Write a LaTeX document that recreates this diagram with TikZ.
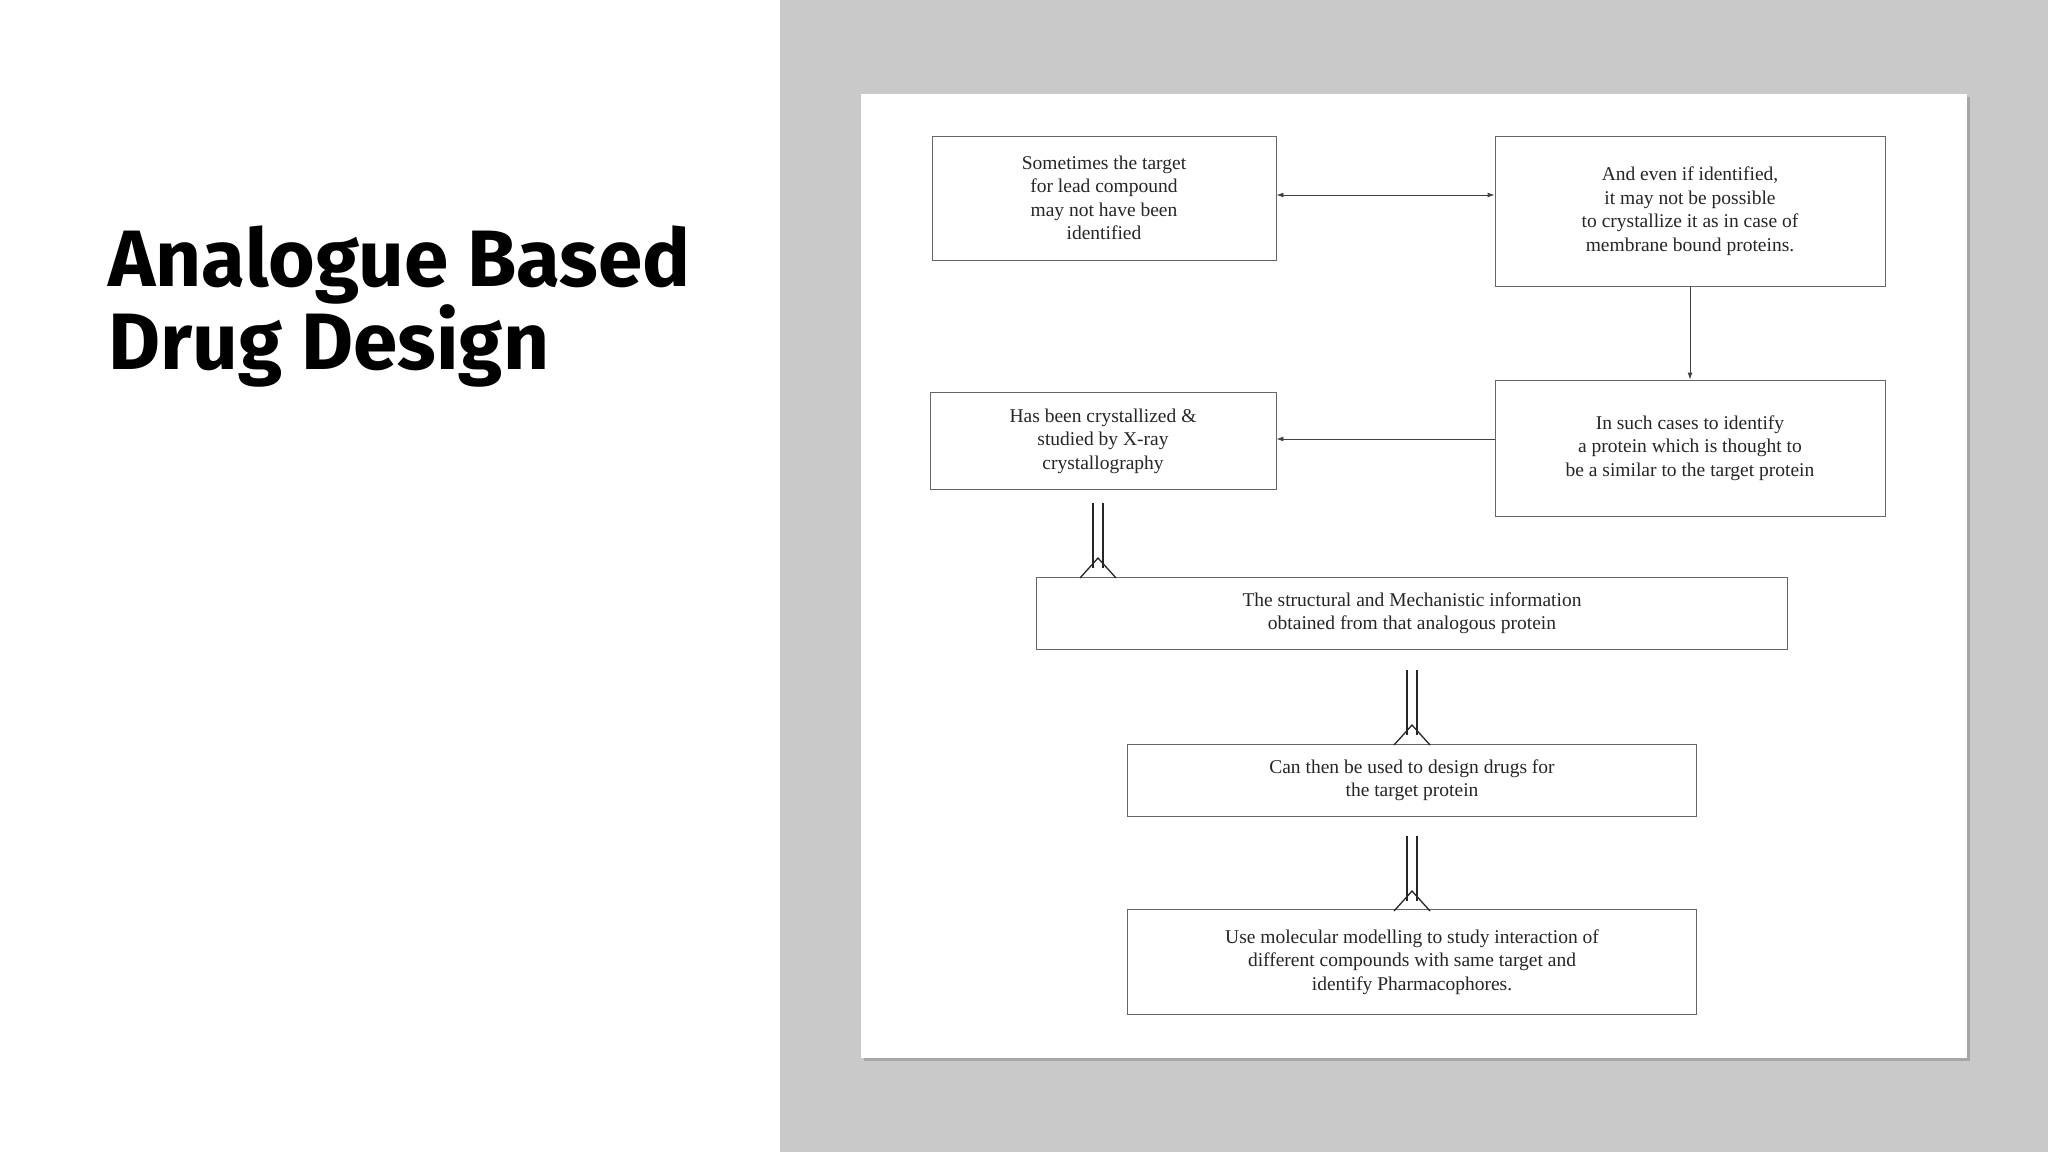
\documentclass[tikz,border=0pt]{standalone}
\usepackage{fontspec}
\setmainfont{Liberation Serif}
\newfontfamily\titlefont{Fira Sans}
\usetikzlibrary{arrows.meta}
\begin{document}
\begin{tikzpicture}[x=1pt,y=-1pt,
  bx/.style={draw=black!60,line width=0.9pt,fill=white,align=center,text=black!85,
    font=\fontsize{19.5}{23.5}\selectfont,inner sep=0pt},
  conn/.style={draw=black!75,line width=0.9pt,-{Latex[length=7pt,width=5pt]}},
  dbl/.style={draw=black!85,line width=1.3pt}]
\useasboundingbox (0,0) rectangle (2048,1152);
\fill[white] (0,0) rectangle (2048,1152);
\fill[black!21] (780,0) rectangle (2048,1152);
\fill[black!35] (864,97) rectangle (1970,1061);
\fill[white] (861,94) rectangle (1967,1058);
\node[font=\titlefont\bfseries\fontsize{80}{82}\selectfont,anchor=north west,align=left] (title) at (105,222) {Analogue Based\\Drug Design};
\node[bx,minimum width=344,minimum height=124] (b1) at (1104,198) {Sometimes the target\\for lead compound\\may not have been\\identified};
\node[bx,minimum width=390,minimum height=150] (b2) at (1690,211) {And even if identified,\\it may not be possible\\to crystallize it as in case of\\membrane bound proteins.};
\node[bx,minimum width=346,minimum height=97] (b3) at (1103,441) {Has been crystallized \&\\studied by X-ray\\crystallography};
\node[bx,minimum width=390,minimum height=136] (b4) at (1690,448) {In such cases to identify\\a protein which is thought to\\be a similar to the target protein};
\node[bx,minimum width=751,minimum height=72] (b5) at (1412,613) {The structural and Mechanistic information\\obtained from that analogous protein};
\node[bx,minimum width=569,minimum height=72] (b6) at (1412,780) {Can then be used to design drugs for\\the target protein};
\node[bx,minimum width=569,minimum height=105] (b7) at (1412,962) {Use molecular modelling to study interaction of\\different compounds with same target and\\identify Pharmacophores.};
\draw[conn,{Latex[length=7pt,width=5pt]}-{Latex[length=7pt,width=5pt]}] (b1.east |- 0,195) -- (b2.west |- 0,195);
\draw[conn] (b2.south) -- (b4.north);
\draw[conn] (b4.west |- 0,439) -- (b3.east |- 0,439);
\foreach \n/\x/\t/\b in {d1/1098/503/558, d2/1412/670/725, d3/1412/836/891}{
  \coordinate (\n t) at (\x,\t);
  \coordinate (\n b) at (\x,\b);
  \draw[dbl] ([xshift=-5pt]\n t) -- ([xshift=-5pt,yshift=-10pt]\n b);
  \draw[dbl] ([xshift=5pt]\n t) -- ([xshift=5pt,yshift=-10pt]\n b);
  \draw[dbl] ([xshift=-18pt,yshift=-20pt]\n b) -- (\n b) -- ([xshift=18pt,yshift=-20pt]\n b);
}
\end{tikzpicture}
\end{document}
